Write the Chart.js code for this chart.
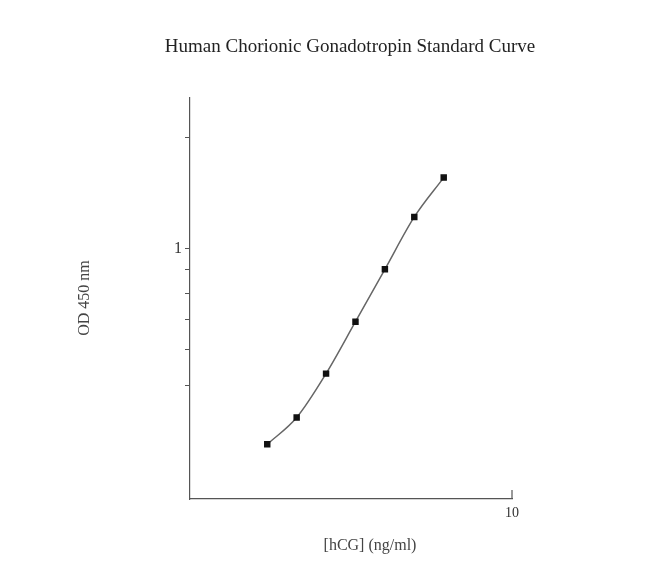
<!DOCTYPE html>
<html>
<head>
<meta charset="utf-8">
<script src="https://cdn.jsdelivr.net/npm/chart.js@4"></script>
<style>
  body { margin: 0; background: #fff; }
  #wrap { width: 650px; height: 580px; }
</style>
</head>
<body>
<div id="wrap"><canvas id="c"></canvas></div>
<script>
// hCG standards (ng/ml) and measured OD
const concentrations = [0.03125, 0.0625, 0.125, 0.25, 0.5, 1, 2];
const odValues = [0.372, 0.426, 0.532, 0.692, 0.902, 1.176, 1.435];
const yTickValues = [0.5, 0.6, 0.7, 0.8, 0.9, 1, 1.76];
const yTickLabels = { 1: '1' };
const xTickValues = [10];

const titleText = 'Human Chorionic Gonadotropin Standard Curve';
const xTitle = '[hCG] (ng/ml)';
const yTitle = 'OD 450 nm';

const serif = '"Liberation Serif", "DejaVu Serif", serif';

const textPlugin = {
    id: 'texts',
    afterDraw(chart) {
        const ctx = chart.ctx;
        const x = chart.scales.x;
        ctx.save();
        ctx.fillStyle = '#222';
        ctx.font = '19px ' + serif;
        ctx.textAlign = 'center';
        ctx.textBaseline = 'middle';
        ctx.fillText(titleText, 350, 47);
        ctx.fillStyle = '#444';
        ctx.font = '16px ' + serif;
        ctx.fillText(xTitle, 370, 546);
        ctx.save();
        ctx.translate(85, 298);
        ctx.rotate(-Math.PI / 2);
        ctx.fillText(yTitle, 0, 0);
        ctx.restore();
        // upward tick marks on the x axis
        ctx.strokeStyle = '#555';
        ctx.lineWidth = 1.2;
        xTickValues.forEach(v => {
            const px = x.getPixelForValue(v);
            ctx.beginPath();
            ctx.moveTo(px, x.top);
            ctx.lineTo(px, x.top - 9);
            ctx.stroke();
        });
        ctx.restore();
    }
};

new Chart(document.getElementById('c'), {
    type: 'line',
    data: {
        labels: concentrations,
        datasets: [{
            data: concentrations.map((c, i) => ({ x: c, y: odValues[i] })),
            borderColor: '#666',
            borderWidth: 1.5,
            cubicInterpolationMode: 'monotone',
            pointStyle: 'rect',
            pointRadius: 3.5,
            pointBackgroundColor: '#111',
            pointBorderColor: '#111'
        }]
    },
    options: {
        responsive: true,
        maintainAspectRatio: false,
        animation: false,
        layout: { padding: { top: 98, right: 138, left: 0, bottom: 0 } },
        plugins: { legend: { display: false }, tooltip: { enabled: false } },
        scales: {
            x: {
                type: 'logarithmic',
                min: 0.00506,
                max: 10,
                afterFit: s => { s.height = 81; },
                afterBuildTicks: s => { s.ticks = xTickValues.map(v => ({ value: v })); },
                grid: { display: false, drawTicks: false },
                border: { color: '#555', width: 1.2 },
                ticks: {
                    padding: 6,
                    color: '#333',
                    font: { family: serif, size: 14 },
                    callback: v => String(v)
                }
            },
            y: {
                type: 'logarithmic',
                min: 0.282,
                max: 2.147,
                afterFit: s => { s.width = 190; },
                afterBuildTicks: s => { s.ticks = yTickValues.map(v => ({ value: v })); },
                grid: { drawOnChartArea: false, tickLength: 5, color: '#555' },
                border: { color: '#555', width: 1.2 },
                ticks: {
                    padding: 3,
                    color: '#333',
                    font: { family: serif, size: 16 },
                    callback: v => yTickLabels[v] || ''
                }
            }
        }
    },
    plugins: [textPlugin]
});
</script>
</body>
</html>
